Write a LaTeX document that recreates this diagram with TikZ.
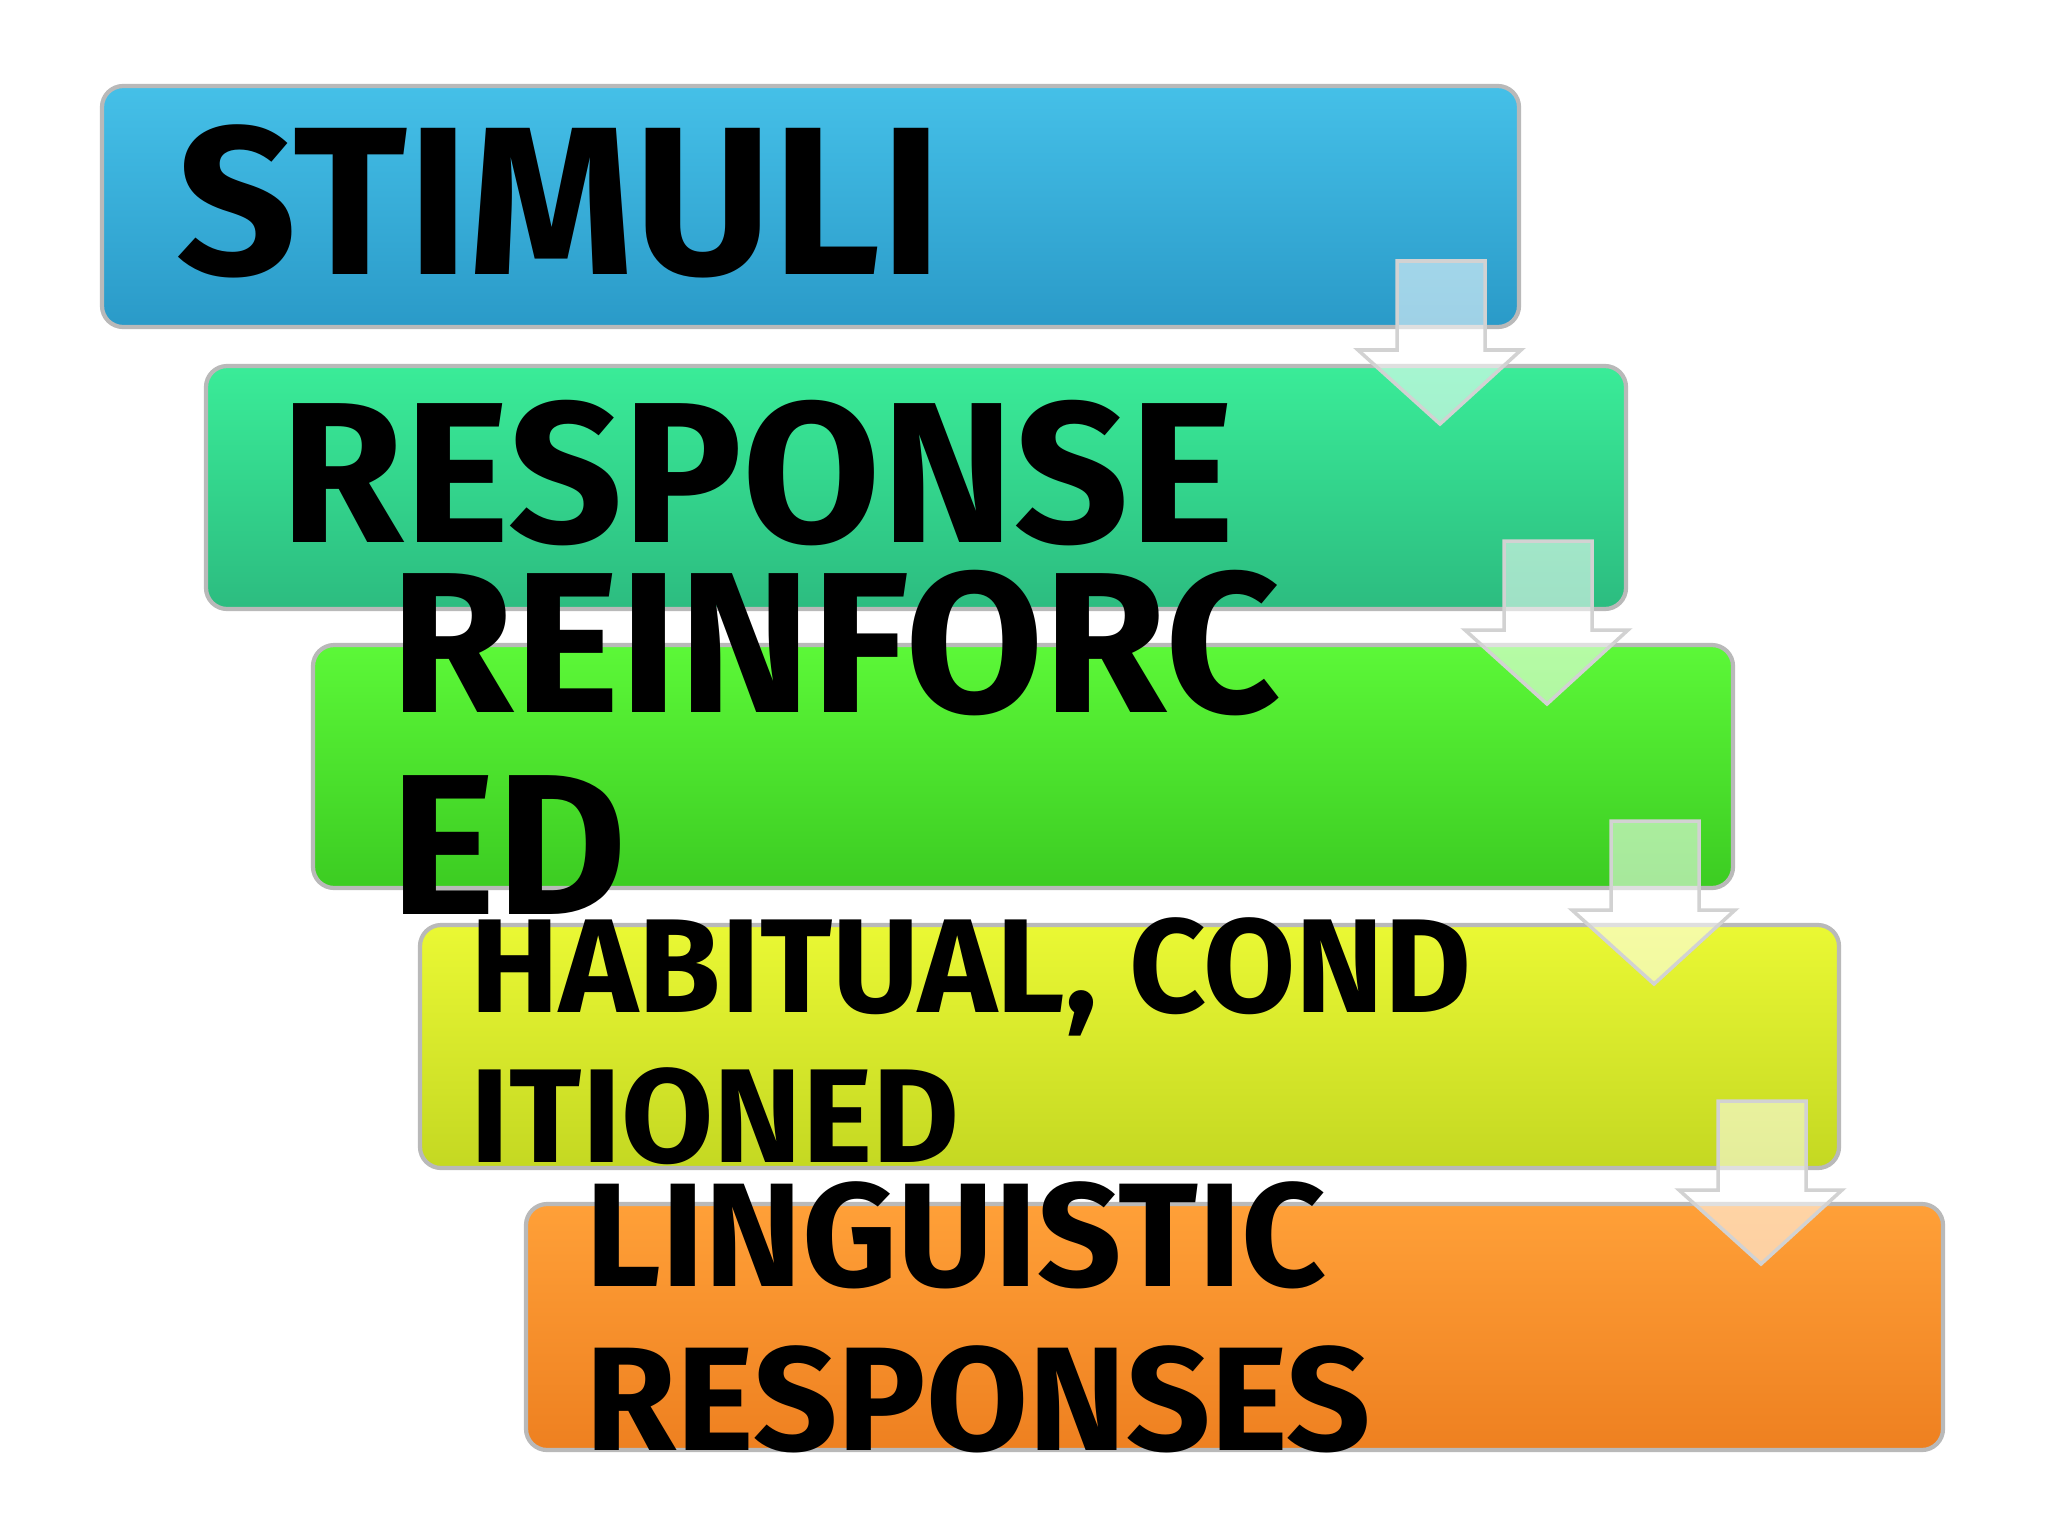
\documentclass[tikz,border=0pt]{standalone}
\usepackage{fontspec}
\setmainfont{Fira Sans}
\begin{document}
\begin{tikzpicture}[x=0.01cm,y=-0.01cm,
  stepbox/.style={draw=gray!55, line width=1.2pt, rounded corners=6pt},
  lbl/.style={anchor=base west, inner sep=0pt, font=\bfseries, text=black},
  arr/.style={fill=white, fill opacity=0.55, draw=gray!35, line width=1pt}]
\useasboundingbox (0,0) rectangle (2048,1536);
\fill[white] (0,0) rectangle (2048,1536);
\definecolor{c1t}{HTML}{45C0E8}\definecolor{c1b}{HTML}{2A9AC8}
\definecolor{c2t}{HTML}{3AEC98}\definecolor{c2b}{HTML}{2CBC80}
\definecolor{c3t}{HTML}{5CF838}\definecolor{c3b}{HTML}{3CCC22}
\definecolor{c4t}{HTML}{EAF834}\definecolor{c4b}{HTML}{C4D822}
\definecolor{c5t}{HTML}{FFA038}\definecolor{c5b}{HTML}{EE8020}
\path[stepbox, top color=c1t, bottom color=c1b] (102,86) rectangle (1519,327) node[pos=0.5] (b1) {};
\path[stepbox, top color=c2t, bottom color=c2b] (206,366) rectangle (1626,609) node[pos=0.5] (b2) {};
\path[stepbox, top color=c3t, bottom color=c3b] (313,645) rectangle (1733,888) node[pos=0.5] (b3) {};
\path[stepbox, top color=c4t, bottom color=c4b] (420,925) rectangle (1839,1168) node[pos=0.5] (b4) {};
\path[stepbox, top color=c5t, bottom color=c5b] (526,1204) rectangle (1943,1450) node[pos=0.5] (b5) {};
\foreach \i in {0,1,2,3}{
  \begin{scope}[shift={(107*\i,280*\i)}]
  \draw[arr] (1397,261) -- (1485,261) -- (1485,350) -- (1521,350) -- (1440,424) -- (1358,350) -- (1397,350) -- cycle;
  \end{scope}}
\node[lbl, font=\bfseries\fontsize{60}{60}\selectfont] (t1) at (176,274) {STIMULI};
\node[lbl, font=\bfseries\fontsize{57}{57}\selectfont] (t2) at (280,542) {RESPONSE};
\node[lbl, font=\bfseries\fontsize{57}{57}\selectfont] (t3) at (390,712) {REINFORC};
\node[lbl, font=\bfseries\fontsize{57}{57}\selectfont] (t3b) at (390,914) {ED};
\node[lbl, font=\bfseries\fontsize{38}{38}\selectfont] (t4) at (470,1012) {HABITUAL, COND};
\node[lbl, font=\bfseries\fontsize{38}{38}\selectfont] (t4b) at (470,1162) {ITIONED};
\node[lbl, font=\bfseries\fontsize{42}{42}\selectfont] (t5) at (585,1286) {LINGUISTIC};
\node[lbl, font=\bfseries\fontsize{42}{42}\selectfont] (t5b) at (585,1450) {RESPONSES};
\end{tikzpicture}
\end{document}
